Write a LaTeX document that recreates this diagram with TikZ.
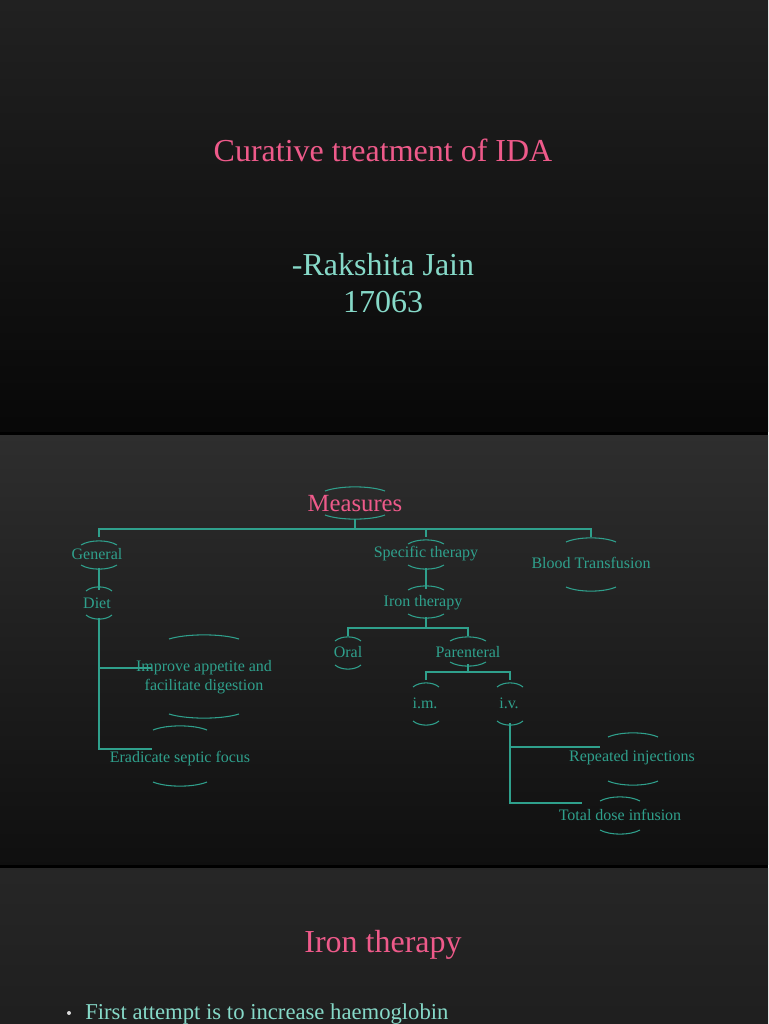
\documentclass[tikz,border=0pt]{standalone}
\usepackage{fontspec}
\setmainfont{Liberation Serif}
\begin{document}
\begin{tikzpicture}[x=0.75pt,y=-0.75pt]
\definecolor{pinkc}{HTML}{EE5A8A}
\definecolor{mint}{HTML}{86D9C8}
\definecolor{tealc}{HTML}{2FA08C}
\tikzset{
 lbl/.style={text=tealc,font=\fontsize{12}{14}\selectfont,inner sep=1pt,align=center},
 ln/.style={draw=tealc,line width=0.8pt},
 arcl/.style={draw=tealc,line width=0.8pt},
}
\newcommand\brk[5]{% name, x, half width, ytop, ybottom
 \draw[arcl] (#2-#3,#4+4) .. controls (#2-#3/2,#4-1.5) and (#2+#3/2,#4-1.5) .. (#2+#3,#4+4);
 \draw[arcl] (#2-#3,#5-4) .. controls (#2-#3/2,#5+1.5) and (#2+#3/2,#5+1.5) .. (#2+#3,#5-4);}
\useasboundingbox (0,0) rectangle (768,1024);
\fill[black] (0,0) rectangle (768,1024);
\shade[top color=black!87!white,bottom color=black!97!white] (0,0) rectangle (768,431);
\shade[top color=black!82!white,bottom color=black!94!white] (0,435) rectangle (768,864);
\shade[top color=black!85!white,bottom color=black!88!white] (0,868) rectangle (768,1024);
% slide 1
\node[text=pinkc,font=\fontsize{24}{28}\selectfont] (t1) at (383,150) {Curative treatment of IDA};
\node[text=mint,font=\fontsize{24}{28}\selectfont] (a1) at (383,265) {-Rakshita Jain};
\node[text=mint,font=\fontsize{24}{28}\selectfont] (a2) at (383,302) {17063};
% slide 2
\node[text=pinkc,font=\fontsize{18.5}{20}\selectfont,inner sep=1pt] (m) at (355,504) {Measures};
\brk{m}{355}{30}{487}{519}
\node[lbl] (gen) at (97,554) {General};
\brk{gen}{99}{18}{541}{569}
\node[lbl] (spec) at (426,554) {Specific therapy};
\brk{spec}{426}{18}{540}{569}
\node[lbl] (blood) at (591,563) {Blood Transfusion};
\brk{blood}{591}{25}{538}{591}
\node[lbl] (diet) at (97,603) {Diet};
\brk{diet}{99}{13}{587}{619}
\node[lbl] (iron) at (423,603) {Iron therapy};
\brk{iron}{426}{18}{586}{618}
\node[lbl] (imp) at (204,677) {Improve appetite and\\facilitate digestion};
\brk{imp}{204}{35}{635}{718}
\node[lbl] (erad) at (180,759) {Eradicate septic focus};
\brk{erad}{180}{27}{726}{786}
\node[lbl] (oral) at (348,652) {Oral};
\brk{oral}{348}{13}{637}{669}
\node[lbl] (par) at (468,652) {Parenteral};
\brk{par}{468}{18}{637}{666}
\node[lbl] (im) at (425,703) {i.m.};
\brk{im}{426}{13}{683}{725}
\node[lbl] (iv) at (509,703) {i.v.};
\brk{iv}{510}{13}{683}{725}
\node[lbl] (rep) at (632,758) {Repeated injections};
\brk{rep}{633}{25}{733}{785}
\node[lbl] (tot) at (620,815) {Total dose infusion};
\brk{tot}{620}{20}{797}{834}
\coordinate (mb) at (355,519);
\draw[ln] (mb) -- (355,529);
\draw[ln] (99,537) -- (99,529) -- (591,529) -- (591,537);
\draw[ln] (426,529) -- (426,537);
\draw[ln] (99,568) -- (99,590);
\draw[ln] (426,568) -- (426,589);
\draw[ln] (99,618) -- (99,749) -- (152,749);
\draw[ln] (99,668) -- (152,668);
\draw[ln] (426,617) -- (426,628);
\draw[ln] (348,636) -- (348,628) -- (468,628) -- (468,636);
\draw[ln] (468,664) -- (468,672);
\draw[ln] (426,680) -- (426,672) -- (510,672) -- (510,680);
\draw[ln] (510,723) -- (510,803) -- (582,803);
\draw[ln] (510,747) -- (600,747);
% slide 3
\node[text=pinkc,font=\fontsize{24}{28}\selectfont] (t3) at (383,945) {Iron therapy};
\fill[white!85!black] (69,1013) circle (2);
\node[text=mint,font=\fontsize{17}{20}\selectfont,anchor=west,inner sep=0] (b1) at (85,1014) {First attempt is to increase haemoglobin};
\end{tikzpicture}
\end{document}
